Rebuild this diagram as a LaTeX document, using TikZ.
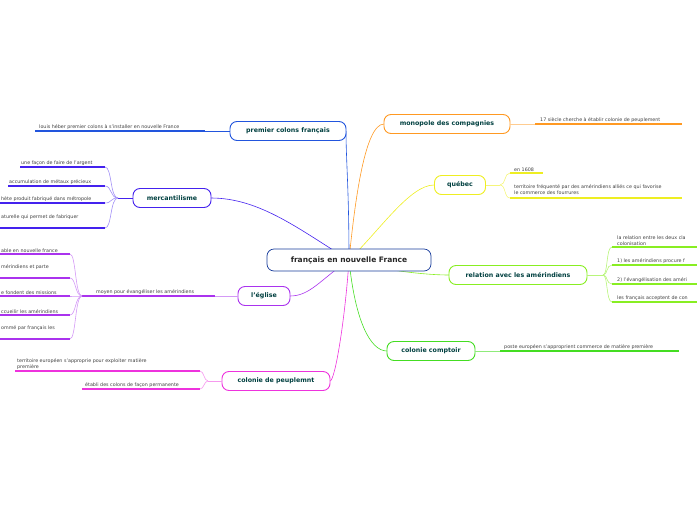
\documentclass[tikz,border=0pt]{standalone}
\usepackage{fontspec}
\setmainfont{DejaVu Sans}
\begin{document}
\begin{tikzpicture}[x=1pt,y=-1pt,
  br/.style={draw=#1,line width=0.9pt,rounded corners=7pt,fill=white,minimum height=19pt,font=\fontsize{6.3}{7}\selectfont\bfseries,text=teal!50!black},
  lf/.style={font=\fontsize{4.8}{6}\selectfont,text=black!75,anchor=south west,inner sep=1pt,align=left},
  ul/.style={draw=#1,line width=1.3pt},
  cn/.style={draw=#1,line width=0.6pt}]
\useasboundingbox (0,0) rectangle (697,520);
\clip (0,0) rectangle (697,520);
\definecolor{cb}{HTML}{2255DD}\definecolor{cm}{HTML}{4422EE}\definecolor{ce}{HTML}{AA33EE}
\definecolor{cp}{HTML}{EE33DD}\definecolor{co}{HTML}{FF9922}\definecolor{cy}{HTML}{EEEE22}
\definecolor{cg}{HTML}{88EE22}\definecolor{cc}{HTML}{44DD22}
% connectors from centre
\coordinate (c0) at (349,260);
\draw[cn=cb] (c0) .. controls (349,190) and (346,160) .. (346,131);
\draw[cn=cm] (c0) .. controls (300,230) and (260,198) .. (211,198);
\draw[cn=ce] (c0) .. controls (320,280) and (310,296) .. (290,296);
\draw[cn=cp] (c0) .. controls (345,320) and (335,381) .. (330,381);
\draw[cn=co] (c0) .. controls (355,200) and (365,124) .. (384,124);
\draw[cn=cy] (c0) .. controls (380,230) and (410,185) .. (434,185);
\draw[cn=cg] (c0) .. controls (370,268) and (420,275) .. (449,275);
\draw[cn=cc] (c0) .. controls (355,320) and (370,351) .. (387,351);
% branch nodes
\node[br=cb,minimum width=116pt] (pc) at (288,131) {premier colons français};
\node[br=cm,minimum width=78pt] (me) at (172,198) {mercantilisme};
\node[br=ce,minimum width=52pt] (eg) at (264,296) {l'église};
\node[br=cp,minimum width=108pt] (cpn) at (276,381) {colonie de peuplemnt};
\node[br=co,minimum width=126pt] (mo) at (447,124) {monopole des compagnies};
\node[br=cy,minimum width=51pt] (qu) at (460,185) {québec};
\node[br=cg,minimum width=138pt] (ra) at (518,275) {relation avec les amérindiens};
\node[br=cc,minimum width=88pt] (co2) at (431,351) {colonie comptoir};
\node[draw=cb!70!black,line width=0.7pt,rounded corners=7pt,fill=white,minimum width=164pt,minimum height=22pt,font=\fontsize{7.5}{9}\selectfont\bfseries,text=black!85] (ce) at (c0) {français en nouvelle France};
% premier colons
\draw[cn=cb] (pc.west) -- (205,131);
\draw[ul=cb] (35,131) -- (205,131);
\node[lf] at (38,131) {louis héber premier colons à s'installer en nouvelle France};
% mercantilisme
\coordinate (mj) at (118,198);
\draw[cn=cm] (me.west) -- (mj);
\foreach \y/\x in {167/20,186/8,203/0,228/0}{
  \draw[cn=cm!50] (mj) .. controls (110,198) and (112,\y) .. (105,\y);
  \draw[ul=cm] (\x,\y) -- (105,\y);}
\node[lf] at (20,167) {une façon de faire de l'argent};
\node[lf] at (8,186) {accumulation de métaux précieux};
\node[lf] at (0,203) {hète produit fabriqué dans métropole};
\node[lf] at (0,221) {aturelle qui permet de fabriquer};
% eglise
\coordinate (ej) at (82,296);
\draw[cn=ce!50] (eg.west) -- (215,296);
\draw[ul=ce] (ej) -- (215,296);
\node[lf] at (95,296) {moyen pour évangéliser les amérindiens};
\foreach \y in {254,278,296,315,339}{
  \draw[cn=ce!50] (ej) .. controls (75,296) and (76,\y) .. (70,\y);
  \draw[ul=ce] (0,\y) -- (70,\y);}
\node[lf] at (0,254) {able en nouvelle france};
\node[lf] at (0,271) {mérindiens et parte};
\node[lf] at (0,296) {e fondent des missions};
\node[lf] at (0,315) {ccueilir les amérindiens};
\node[lf] at (0,332) {ommé par français les};
% colonie peuplement
\coordinate (pj) at (208,381);
\draw[cn=cp!50] (cpn.west) -- (pj);
\draw[cn=cp!50] (pj) .. controls (204,381) and (204,371) .. (200,371);
\draw[cn=cp!50] (pj) .. controls (204,381) and (204,389) .. (200,389);
\draw[ul=cp] (15,371) -- (200,371);
\draw[ul=cp] (82,389) -- (200,389);
\node[lf] at (16,371) {territoire européen s'approprie pour exploiter matière\\première};
\node[lf] at (84,389) {établi des colons de façon permanente};
% monopole
\draw[cn=co!50] (mo.east) -- (535,124);
\draw[ul=co] (535,124) -- (682,124);
\node[lf] at (539,124) {17 siècle cherche à établir colonie de peuplement};
% quebec
\coordinate (qj) at (500,185);
\draw[cn=cy!60] (qu.east) -- (qj);
\draw[cn=cy!60] (qj) .. controls (506,185) and (504,173) .. (510,173);
\draw[cn=cy!60] (qj) .. controls (506,185) and (504,198) .. (510,198);
\draw[ul=cy] (510,173) -- (543,173);
\draw[ul=cy] (510,198) -- (682,198);
\node[lf] at (513,173) {en 1608};
\node[lf] at (513,196) {territoire fréquenté par des amérindiens alliés ce qui favorise\\le commerce des fourrures};
% relation
\coordinate (rj) at (603,275);
\draw[cn=cg!60] (ra.east) -- (rj);
\foreach \y in {247,265,284,302}{
  \draw[cn=cg!60] (rj) .. controls (608,275) and (606,\y) .. (612,\y);
  \draw[ul=cg] (612,\y) -- (697,\y);}
\node[lf] at (616,247) {la relation entre les deux cla\\colonisation};
\node[lf] at (616,265) {1) les amérindiens procure f};
\node[lf] at (616,284) {2) l'évangélisation des améri};
\node[lf] at (616,302) {les français acceptent de con};
% comptoir
\draw[cn=cc!60] (co2.east) -- (500,351);
\draw[ul=cc] (500,351) -- (679,351);
\node[lf] at (503,351) {poste européen s'approprient commerce de matière première};
\end{tikzpicture}
\end{document}
